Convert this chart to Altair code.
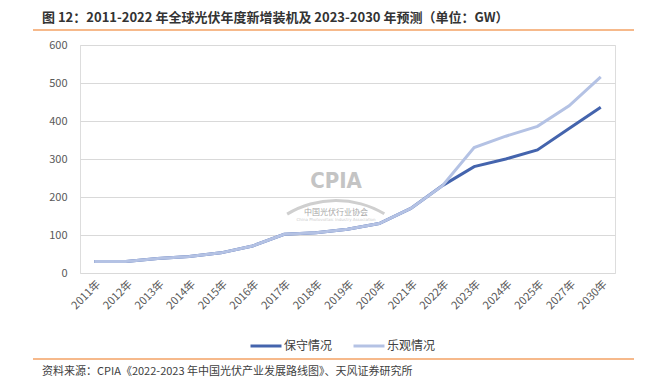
import altair as alt
import pandas as pd

years = ["2011年", "2012年", "2013年", "2014年", "2015年", "2016年", "2017年",
         "2018年", "2019年", "2020年", "2021年", "2022年", "2023年", "2024年",
         "2025年", "2027年", "2030年"]
conservative = [30.2, 30.5, 38.4, 43.6, 53, 71, 102, 106, 115, 130, 170, 230,
                280, 300, 324, 380, 436]
optimistic = [30.2, 30.5, 38.4, 43.6, 53, 71, 102, 106, 115, 130, 170, 230,
              330, 360, 386, 440, 516]
series_names = ["保守情况", "乐观情况"]
series_colors = ["#4464ad", "#b4c2e4"]
y_ticks = [0, 100, 200, 300, 400, 500, 600]

title_text = "图 12：2011-2022 年全球光伏年度新增装机及 2023-2030 年预测（单位：GW）"
source_text = "资料来源：CPIA《2022-2023 年中国光伏产业发展路线图》、天风证券研究所"

rows = []
for yr, c, o in zip(years, conservative, optimistic):
    rows.append({"year": yr, "series": series_names[0], "value": c})
    rows.append({"year": yr, "series": series_names[1], "value": o})
df = pd.DataFrame(rows)

FONT = "Noto Sans CJK SC"
one = pd.DataFrame({"a": [0]})

x_enc = alt.X("year:N", sort=years, scale=alt.Scale(padding=0.45),
              axis=alt.Axis(title=None, labelAngle=-45, labelFontSize=11,
                            labelColor="#595959", labelFont=FONT, ticks=False,
                            domain=False, grid=False, labelPadding=5))
y_enc = alt.Y("value:Q", scale=alt.Scale(domain=[0, 600], nice=False),
              axis=alt.Axis(title=None, values=y_ticks, labelFontSize=11,
                            labelColor="#595959", labelFont=FONT, ticks=False,
                            domain=False, grid=True, gridColor="#d9d9d9",
                            gridWidth=1, labelPadding=13))
color_enc = alt.Color("series:N",
                      scale=alt.Scale(domain=series_names, range=series_colors),
                      legend=alt.Legend(title=None, orient="none", direction="horizontal",
                                        legendX=169, legendY=284, symbolType="stroke",
                                        symbolSize=961, symbolStrokeWidth=3,
                                        labelFontSize=12, labelFont=FONT,
                                        labelColor="#404040", labelOffset=1,
                                        columnPadding=14))

base = alt.Chart(df)
cons = base.transform_filter(alt.datum.series == series_names[0]).mark_line(
    strokeWidth=3).encode(x=x_enc, y=y_enc, color=color_enc)
opt = base.transform_filter(alt.datum.series == series_names[1]).mark_line(
    strokeWidth=3).encode(x=x_enc, y=y_enc, color=color_enc)

title = alt.Chart(one).mark_text(
    text=title_text, align="left", baseline="middle", font=FONT, fontSize=13,
    fontWeight="bold", color="#333333").encode(x=alt.value(-38), y=alt.value(-27))
source = alt.Chart(one).mark_text(
    text=source_text, align="left", baseline="middle", font=FONT, fontSize=11,
    color="#404040").encode(x=alt.value(-38), y=alt.value(327))
rule_top = alt.Chart(one).mark_rule(color="#f6b98b", strokeWidth=2).encode(
    x=alt.value(-47), x2=alt.value(554), y=alt.value(-15))
rule_bot = alt.Chart(one).mark_rule(color="#f6b98b", strokeWidth=2).encode(
    x=alt.value(-47), x2=alt.value(554), y=alt.value(314))

wm1 = alt.Chart(one).mark_text(
    text="CPIA", align="center", baseline="middle", font="DejaVu Sans Condensed",
    fontSize=22, fontWeight="bold", color="#c4c4c4").encode(
    x=alt.value(256), y=alt.value(136))
wm_arc = alt.Chart(one).mark_arc(
    theta=5.74, theta2=6.82, radius=96, radius2=93, color="#cfcfcf").encode(
    x=alt.value(256), y=alt.value(250))
wm2 = alt.Chart(one).mark_text(
    text="中国光伏行业协会", align="center", baseline="middle", font=FONT,
    fontSize=8, color="#a8a8a8").encode(x=alt.value(256), y=alt.value(168))
wm3 = alt.Chart(one).mark_text(
    text="China Photovoltaic Industry Association", align="center", baseline="middle",
    font="DejaVu Sans", fontSize=4, color="#cccccc").encode(
    x=alt.value(256), y=alt.value(175))

chart = alt.layer(wm_arc, wm1, wm2, wm3, cons, opt, title, source, rule_top, rule_bot).properties(
    width=535, height=228,
    autosize=alt.AutoSizeParams(type="none"),
    padding={"left": 72, "top": 37, "right": 36, "bottom": 109},
).configure_view(stroke=None).configure(background="white")

chart.save("out.html", embed_options={"renderer": "svg", "actions": False})
